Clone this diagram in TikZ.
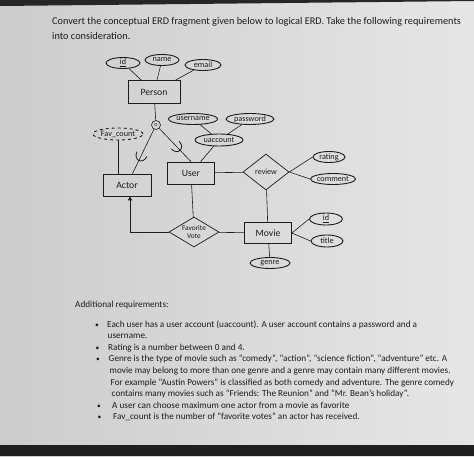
\documentclass[tikz,border=0pt]{standalone}
\usepackage{fontspec}
\setmainfont{Carlito}
\usepackage{xcolor}
\usetikzlibrary{shapes.geometric,arrows.meta,decorations.markings}
\definecolor{ink}{RGB}{28,28,28}
\definecolor{screenL}{RGB}{204,204,204}
\definecolor{screenR}{RGB}{230,230,230}
\tikzset{
  entity/.style={draw=ink, line width=0.7pt, minimum width=48pt, minimum height=22pt, inner sep=1pt, font=\fontsize{9.7}{10}\selectfont},
  attr/.style={draw=ink, ellipse, line width=0.9pt, inner sep=0pt, minimum height=11pt, font=\fontsize{8.2}{8.5}\selectfont},
  rel/.style={draw=ink, diamond, line width=0.7pt, inner sep=0pt, font=\fontsize{8}{8.5}\selectfont},
  link/.style={draw=ink, line width=0.6pt},
  subsetcup/.style={postaction={decorate}, decoration={markings, mark=at position #1 with {
      \draw[ink, line width=0.8pt] (-4.5pt,5.5pt) .. controls (5pt,5.5pt) and (5pt,-5.5pt) .. (-4.5pt,-5.5pt);}}},
  reqline/.style={anchor=base west, inner sep=0pt, font=\fontsize{9.2}{10}\selectfont},
  bulletmark/.style={anchor=base, inner sep=0pt, font=\fontsize{7.5}{8}\selectfont},
}
\begin{document}
\begin{tikzpicture}[x=1pt,y=-1pt,text=ink]
    % screen background
    \fill[left color=screenL, right color=screenR] (0,0) rectangle (474,456);
    \fill[black!85] (0,0) -- (474,0) -- (474,1) -- (0,6) -- cycle;
    \fill[black!88] (0,445) rectangle (474,456);
    \useasboundingbox (0,0) rectangle (474,456);

    % task text
    \node[anchor=base west, inner sep=0pt, font=\fontsize{10.3}{10}\selectfont] (task1) at (52,24) {Convert the conceptual ERD fragment given below to logical ERD. Take the following requirements};
    \node[anchor=base west, inner sep=0pt, font=\fontsize{10.3}{10}\selectfont] (task2) at (52,39) {into consideration.};

    % entities
    \node[entity, minimum width=52pt, minimum height=23pt] (person) at (154,92) {Person};
    \node[entity] (actor) at (127,185) {Actor};
    \node[entity, minimum width=47pt] (user) at (191,173) {User};
    \node[entity, minimum width=47pt, minimum height=21pt] (movie) at (268,233) {Movie};

    % attributes
    \node[attr, minimum width=34pt] (pid) at (123,63) {\underline{id}};
    \node[attr, minimum width=34pt] (pname) at (162,60) {name};
    \node[attr, minimum width=36pt] (pemail) at (203,65) {email};
    \node[attr, dashed, minimum width=50pt, minimum height=12pt] (favc) at (118,134) {Fav\_count};
    \node[attr, minimum width=49pt] (uname) at (193,119) {username};
    \node[attr, minimum width=48pt] (upass) at (250,119) {password};
    \node[attr, minimum width=48pt, minimum height=12pt] (uacc) at (219,140) {uaccount};
    \node[attr, minimum width=32pt] (rating) at (329,157) {rating};
    \node[attr, minimum width=40pt] (comment) at (333,179) {comment};
    \node[attr, minimum width=33pt, minimum height=12pt] (mid) at (326,219) {\underline{id}};
    \node[attr, minimum width=32pt, minimum height=12pt] (mtitle) at (327,241) {title};
    \node[attr, minimum width=40pt] (genre) at (270,263) {genre};

    % relationships
    \node[rel, minimum width=46pt, minimum height=36pt] (review) at (266,172) {review};
    \node[rel, shape aspect=1.67, minimum width=50pt, minimum height=30pt, align=center, font=\fontsize{7.3}{7.8}\selectfont] (fav) at (194,232) {Favorite\\Vote};

    % specialisation
    \node[draw=ink, circle, line width=0.6pt, inner sep=0pt, minimum size=9pt, font=\fontsize{6}{6}\selectfont] (disj) at (156,125) {o};

    % connectors
    \draw[link] (pid) -- (person);
    \draw[link] (pname) -- (person);
    \draw[link] (pemail) -- (person);
    \draw[link] (person) -- (disj);
    \draw[link, subsetcup=0.65] (disj) -- (actor);
    \draw[link, subsetcup=0.6] (disj) -- (user.north);
    \draw[link] (favc) -- (favc |- actor.north);
    \draw[link] (uname) -- (uacc);
    \draw[link] (upass) -- (uacc);
    \draw[link] (uacc) -- (user);
    \draw[link] (user) -- (review);
    \draw[link] (review.east) -- (rating.west);
    \draw[link] (review.east) -- (comment.west);
    \draw[link] (review) -- (movie);
    \draw[link] (movie.east) -- (mid.west);
    \draw[link] (movie.east) -- (mtitle.west);
    \draw[link] (movie) -- (genre);
    \draw[link] (user) -- (fav);
    \draw[link] (fav) -- (movie);
    \draw[link, -{Triangle[width=4pt,length=4pt]}] (fav.west) -| ([xshift=3pt]actor.south);

    % additional requirements
    \node[reqline] (addreq) at (75,307) {Additional requirements:};
    \node[bulletmark] (b1) at (97,327) {\textbullet};
    \node[reqline] (r1a) at (107,327) {Each user has a user account (uaccount). A user account contains a password and a};
    \node[reqline] (r1b) at (107.5,338.6) {username.};
    \node[bulletmark] (b2) at (97.5,350.2) {\textbullet};
    \node[reqline] (r2) at (108,350.2) {Rating is a number between 0 and 4.};
    \node[bulletmark] (b3) at (98,361.8) {\textbullet};
    \node[reqline] (r3a) at (108.5,361.8) {Genre is the type of movie such as “comedy”, “action”, “science fiction”, “adventure” etc. A};
    \node[reqline] (r3b) at (109.5,373.4) {movie may belong to more than one genre and a genre may contain many different movies.};
    \node[reqline] (r3c) at (110.5,385) {For example “Austin Powers” is classified as both comedy and adventure. The genre comedy};
    \node[reqline] (r3d) at (111.5,396.6) {contains many movies such as “Friends: The Reunion” and “Mr. Bean’s holiday”.};
    \node[bulletmark] (b4) at (99,408.2) {\textbullet};
    \node[reqline] (r4) at (112,408.2) {A user can choose maximum one actor from a movie as favorite};
    \node[bulletmark] (b5) at (99.5,419.8) {\textbullet};
    \node[reqline] (r5) at (113,419.8) {Fav\_count is the number of “favorite votes” an actor has received.};
\end{tikzpicture}
\end{document}
